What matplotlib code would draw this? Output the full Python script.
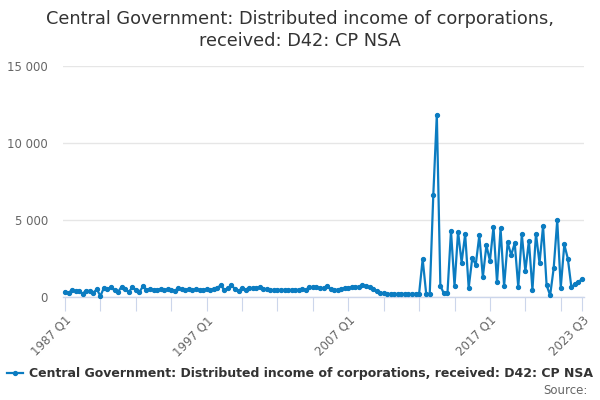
import matplotlib
matplotlib.use("Agg")
import matplotlib.pyplot as plt
from matplotlib.lines import Line2D

# Quarterly periods 1987 Q1 .. 2023 Q3
years = list(range(1987, 2024))
periods = [f"{y} Q{q}" for y in years for q in range(1, 5)][:147]

values = [
    330, 290, 430, 390, 400, 220, 420, 380, 280, 500,
    60, 600, 500, 620, 430, 330, 680, 520, 320, 620,
    480, 300, 700, 480, 520, 480, 460, 520, 440, 500,
    480, 410, 560, 500, 470, 520, 430, 510, 470, 450,
    520, 470, 540, 600, 760, 460, 560, 760, 520, 400,
    560, 470, 600, 580, 600, 620, 540, 500, 480, 440,
    460, 470, 460, 450, 470, 460, 470, 490, 480, 620,
    640, 630, 600, 560, 720, 500, 480, 460, 520, 560,
    600, 620, 680, 650, 760, 700, 620, 500, 380, 280,
    230, 200, 190, 200, 190, 200, 200, 190, 200, 200,
    220, 2460, 200, 200, 6600, 11850, 720, 230, 230, 4300,
    720, 4240, 2240, 4090, 590, 2520, 2110, 4000, 1300, 3350,
    2350, 4550, 960, 4450, 700, 3540, 2720, 3500, 630, 4070,
    1680, 3650, 460, 4110, 2200, 4610, 760, 110, 1870, 4980,
    610, 3410, 2480, 630, 850, 1000, 1150,
]

title = "Central Government: Distributed income of corporations,\nreceived: D42: CP NSA"
series_name = "Central Government: Distributed income of corporations, received: D42: CP NSA"
yticks = [0, 5000, 10000, 15000]
ytick_labels = ["0", "5 000", "10 000", "15 000"]
label_idx = [0, 40, 80, 120, 146]

color = "#0b7cc1"
W, H = 600, 400
fig = plt.figure(figsize=(6, 4), dpi=100)
ax = fig.add_axes([63 / W, (H - 297) / H, (584 - 63) / W, (297 - 66) / H])

x = list(range(len(values)))
ax.plot(x, values, color=color, lw=1.6, marker="o", ms=2.8, clip_on=False, zorder=3)

ax.set_xlim(-0.56, len(values) - 1 + 0.56)
ax.set_ylim(0, 15000)

ax.set_yticks(yticks)
ax.set_yticklabels(ytick_labels, color="#666666", fontsize=8.5)
ax.tick_params(axis="y", length=0, pad=10.8)
ax.grid(axis="y", color="#e6e6e6", lw=1)
ax.set_axisbelow(True)

for s in ["left", "right", "top"]:
    ax.spines[s].set_visible(False)
ax.spines["bottom"].set_color("#ccd6eb")
ax.spines["bottom"].set_linewidth(1)

tick_pos = list(range(0, len(values), 10)) + [len(values) - 1]
ax.set_xticks(tick_pos)
ax.set_xticklabels([periods[i] if i in label_idx else "" for i in tick_pos],
                   rotation=45, ha="right", rotation_mode="anchor",
                   color="#666666", fontsize=8.5)
ax.tick_params(axis="x", length=10, color="#ccd6eb", pad=2)

fig.text(0.5, 0.975, title, ha="center", va="top", fontsize=12.8, color="#333333",
         linespacing=1.3)

# legend
handle = Line2D([], [], color=color, lw=1.6, marker="o", ms=2.8)
leg = fig.legend([handle], [series_name], loc="center", bbox_to_anchor=(0.5, 1 - 374 / H),
                 frameon=False, handlelength=1.3, handletextpad=0.5,
                 prop={"weight": "bold", "size": 9})
for t in leg.get_texts():
    t.set_color("#333333")

fig.text(588 / W, 1 - 391 / H, "Source:", ha="right", va="center", fontsize=8.5, color="#666666")

fig.savefig("out.png", dpi=100)
